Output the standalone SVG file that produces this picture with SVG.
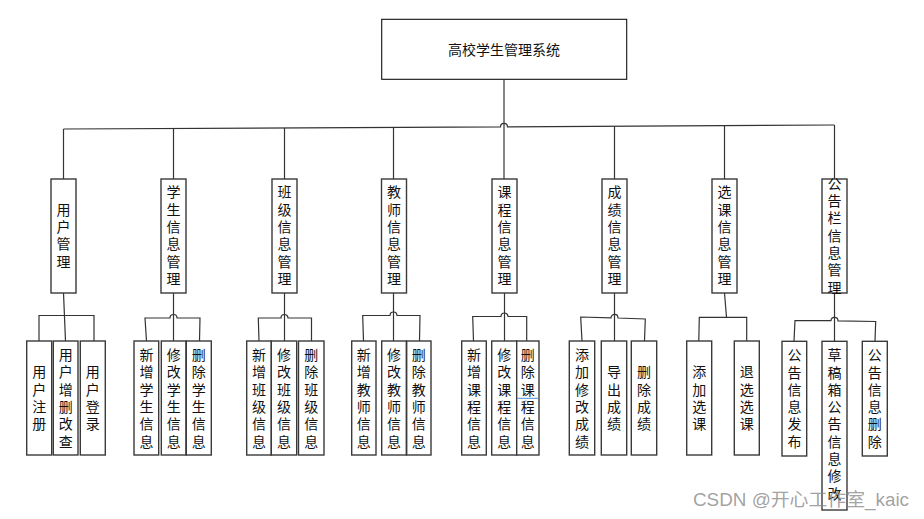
<svg xmlns="http://www.w3.org/2000/svg" width="924" height="519" viewBox="0 0 924 519">
<style>
.bg{fill:#fff}
.box{fill:#fff;stroke:#3a3a3a;stroke-width:1.4}
.root{fill:#fff;stroke:#111;stroke-width:1.1}
.ln{fill:none;stroke:#333;stroke-width:1.2}
.t{font-family:"Noto Sans CJK SC","Microsoft YaHei",sans-serif;font-size:14px;fill:#111;text-anchor:middle;dominant-baseline:central}
.v{font-family:"Noto Sans CJK SC","Microsoft YaHei",sans-serif;font-size:14px;fill:#111;text-anchor:middle;writing-mode:vertical-rl;text-orientation:upright;letter-spacing:3.3px}
.wm{font-family:"Liberation Sans","Noto Sans CJK SC",sans-serif;font-size:18px;fill:#8a8a8a;fill-opacity:0.8}
</style>
<rect class="bg" x="0" y="0" width="924" height="519"/>
<g id="connectors">
  <path class="ln" d="M504,79.3 V179"/>
  <path class="ln" d="M63.5,129 L500.5,126.8 A3.5,3.5 0 0 1 507.5,126.8 L834.5,125"/>
  <path class="ln" d="M63.5,129 V179"/>
  <path class="ln" d="M173.5,128.4 V179"/>
  <path class="ln" d="M284.5,127.9 V179"/>
  <path class="ln" d="M393.5,127.3 V179"/>
  <path class="ln" d="M614.5,126.2 V179"/>
  <path class="ln" d="M724.5,125.6 V179"/>
  <path class="ln" d="M834.5,125 V179"/>
  <path class="ln" d="M63.5,293 L65.5,341"/>
  <path class="ln" d="M39,341 V315.5 H94 V341"/>
  <path class="ln" d="M173.5,293 V341"/>
  <path class="ln" d="M146.5,341 L145,318 H170 A3.5,3.5 0 0 1 177,318 H200 L199.5,341"/>
  <path class="ln" d="M284.5,293 V341"/>
  <path class="ln" d="M259,341 L258.3,318 H281 A3.5,3.5 0 0 1 288,318 H311.5 V341"/>
  <path class="ln" d="M393.5,293 V341"/>
  <path class="ln" d="M363.5,341 L362.7,315.5 H390 A3.5,3.5 0 0 1 397,315.5 H420 L419.5,341"/>
  <path class="ln" d="M504.5,293 V341"/>
  <path class="ln" d="M473.5,341 L472.7,316.5 H501 A3.5,3.5 0 0 1 508,316.5 H526.7 V341"/>
  <path class="ln" d="M614.5,293 V341"/>
  <path class="ln" d="M582,341 L580.7,317 L611,317.8 A3.5,3.5 0 0 1 618,318 L645.3,319 L644.5,341"/>
  <path class="ln" d="M724.5,293 L726.5,317.3"/>
  <path class="ln" d="M698.8,341 L699.3,317.3 H746.7 V341"/>
  <path class="ln" d="M834.5,293 V341"/>
  <path class="ln" d="M794,341 L795,320.7 H831 A3.5,3.5 0 0 1 838,320.9 L875.7,321.5 L875,341"/>
</g>
<g id="root">
  <rect class="root" x="381.7" y="19.3" width="245" height="60"/>
  <text class="t" x="504" y="48.5">高校学生管理系统</text>
</g>
<g id="n-user"><rect class="box" x="51" y="179" width="25" height="114"/><text class="v" x="63.5" y="237">用户管理</text></g>
<g id="n-student"><rect class="box" x="161" y="179" width="25" height="114"/><text class="v" x="173.5" y="237">学生信息管理</text></g>
<g id="n-class"><rect class="box" x="272" y="179" width="25" height="114"/><text class="v" x="284.5" y="237">班级信息管理</text></g>
<g id="n-teacher"><rect class="box" x="381.5" y="179" width="25" height="114"/><text class="v" x="394" y="237">教师信息管理</text></g>
<g id="n-course"><rect class="box" x="492" y="179" width="25" height="114"/><text class="v" x="504.5" y="237">课程信息管理</text></g>
<g id="n-score"><rect class="box" x="602" y="179" width="25" height="114"/><text class="v" x="614.5" y="237">成绩信息管理</text></g>
<g id="n-select"><rect class="box" x="712" y="179" width="25" height="114"/><text class="v" x="724.5" y="237">选课信息管理</text></g>
<g id="n-notice"><rect class="box" x="822" y="179" width="25" height="114"/><text class="v" x="834.5" y="237">公告栏信息管理</text></g>
<g id="n-user-reg"><rect class="box" x="26.7" y="341" width="25" height="114"/><text class="v" x="39.2" y="399.6">用户注册</text></g>
<g id="n-user-crud"><rect class="box" x="53.3" y="341" width="24.7" height="114"/><text class="v" x="65.7" y="399.6">用户增删改查</text></g>
<g id="n-user-login"><rect class="box" x="80.3" y="341" width="25" height="114"/><text class="v" x="92.8" y="399.6">用户登录</text></g>
<g id="n-stu-add"><rect class="box" x="134" y="341" width="24.7" height="114"/><text class="v" x="146.4" y="399.6">新增学生信息</text></g>
<g id="n-stu-edit"><rect class="box" x="161.3" y="341" width="24.7" height="114"/><text class="v" x="173.7" y="399.6">修改学生信息</text></g>
<g id="n-stu-del"><rect class="box" x="186.3" y="341" width="25" height="114"/><text class="v" x="198.8" y="399.6">删除学生信息</text></g>
<g id="n-cls-add"><rect class="box" x="246.7" y="341" width="24.6" height="114"/><text class="v" x="259" y="399.6">新增班级信息</text></g>
<g id="n-cls-edit"><rect class="box" x="271.3" y="341" width="25.4" height="114"/><text class="v" x="284" y="399.6">修改班级信息</text></g>
<g id="n-cls-del"><rect class="box" x="298.5" y="341" width="25.5" height="114"/><text class="v" x="311.2" y="399.6">删除班级信息</text></g>
<g id="n-tch-add"><rect class="box" x="351.7" y="341" width="24.3" height="114"/><text class="v" x="363.8" y="399.6">新增教师信息</text></g>
<g id="n-tch-edit"><rect class="box" x="381.7" y="341" width="24.6" height="114"/><text class="v" x="394" y="399.6">修改教师信息</text></g>
<g id="n-tch-del"><rect class="box" x="406.7" y="341" width="24.3" height="114"/><text class="v" x="418.8" y="399.6">删除教师信息</text></g>
<g id="n-crs-add"><rect class="box" x="461.7" y="341" width="24.6" height="114"/><text class="v" x="474" y="399.6">新增课程信息</text></g>
<g id="n-crs-edit"><rect class="box" x="491.7" y="341" width="25" height="114"/><text class="v" x="504.2" y="399.6">修改课程信息</text></g>
<g id="n-crs-del"><rect class="box" x="516.7" y="341" width="22.3" height="114"/><line x1="517.5" y1="398.3" x2="538.5" y2="398.3" stroke="#4a90d9" stroke-width="1"/><text class="v" x="527.8" y="399.6">删除课程信息</text></g>
<g id="n-sc-add"><rect class="box" x="569.3" y="341" width="25.4" height="114"/><text class="v" x="582" y="399.6">添加修改成绩</text></g>
<g id="n-sc-export"><rect class="box" x="601.3" y="341" width="25.4" height="114"/><text class="v" x="614" y="399.6">导出成绩</text></g>
<g id="n-sc-del"><rect class="box" x="631.3" y="341" width="25.4" height="114"/><text class="v" x="644" y="399.6">删除成绩</text></g>
<g id="n-sel-add"><rect class="box" x="686.7" y="341" width="25" height="114"/><text class="v" x="699.2" y="399.6">添加选课</text></g>
<g id="n-sel-drop"><rect class="box" x="734.3" y="341" width="25" height="114"/><text class="v" x="746.8" y="399.6">退选选课</text></g>
<g id="n-nt-pub"><rect class="box" x="782" y="341.3" width="24.7" height="114.7"/><text class="v" x="794.4" y="399.8">公告信息发布</text></g>
<g id="n-nt-draft"><rect class="box" x="822" y="341.3" width="25" height="168.7"/><text class="v" x="834.5" y="425.8">草稿箱公告信息修改</text></g>
<g id="n-nt-del"><rect class="box" x="862.3" y="341.3" width="25" height="114.7"/><text class="v" x="874.8" y="399.8">公告信息删除</text></g>
<text class="wm" x="693" y="506" textLength="216" lengthAdjust="spacingAndGlyphs">CSDN @开心工作室_kaic</text>
</svg>
